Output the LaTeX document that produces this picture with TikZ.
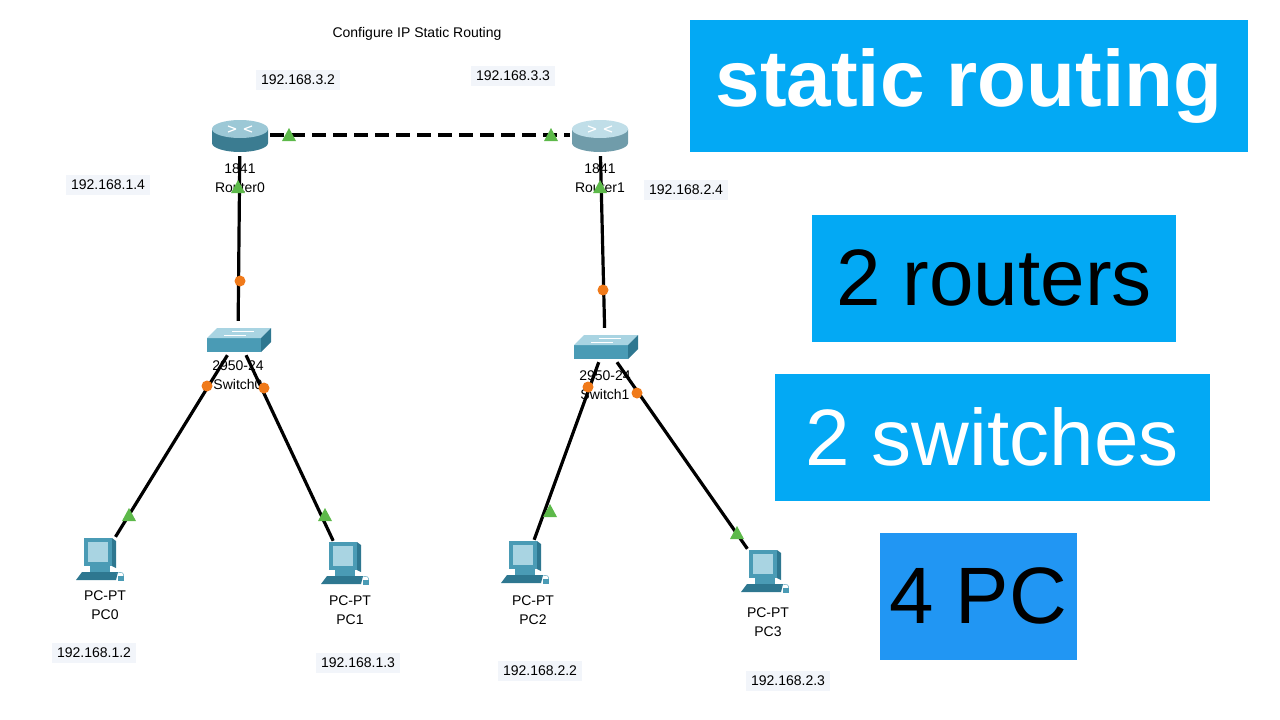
\documentclass[tikz,border=0pt]{standalone}
\usepackage{fontspec}
\setmainfont{Liberation Sans}
\usetikzlibrary{positioning,backgrounds}
\definecolor{devblue}{HTML}{4A9BB5}
\definecolor{devdark}{HTML}{2E7790}
\definecolor{devlight}{HTML}{A9D4E2}
\definecolor{tagfill}{HTML}{F2F5FA}
\definecolor{bannerblue}{HTML}{03A9F4}
\definecolor{bannerblue2}{HTML}{2196F3}
\definecolor{portgreen}{HTML}{5DB94A}
\definecolor{portorange}{HTML}{F07A1A}
\begin{document}
\begin{tikzpicture}[x=1pt,y=-1pt]
                \tikzset{router/.style = {minimum width=60pt,minimum height=42pt,inner sep=0pt,
                    path picture={\begin{scope}[shift={(path picture bounding box.center)}]
                      \fill[#1!80!black] (-28,-6) -- (-28,8) arc[start angle=180,end angle=0,x radius=28,y radius=9] -- (28,-6) -- cycle;
                      \fill[#1!55!white] (0,-6) ellipse[x radius=28,y radius=9];
                      \draw[white,line width=1.2pt] (-12,-9) -- (-4,-6) (12,-9) -- (4,-6) (-12,-3) -- (-4,-6) (12,-3) -- (4,-6);
                    \end{scope}}}}
                \tikzset{switch/.style = {minimum width=70pt,minimum height=34pt,inner sep=0pt,
                    path picture={\begin{scope}[shift={(path picture bounding box.center)}]
                      \fill[devblue] (-31,0) rectangle (23,14);
                      \fill[devlight] (-31,0) -- (-21,-10) -- (33,-10) -- (23,0) -- cycle;
                      \fill[devdark] (23,0) -- (33,-10) -- (33,4) -- (23,14) -- cycle;
                      \draw[white,line width=0.8pt] (-14,-3) -- (8,-3) (-6,-7) -- (16,-7);
                    \end{scope}}}}
                \tikzset{pc/.style = {minimum width=52pt,minimum height=50pt,inner sep=0pt,
                    path picture={\begin{scope}[shift={(path picture bounding box.center)}]
                      \fill[devblue] (-16,-24) rectangle (12,4);
                      \fill[devlight] (-12,-20) rectangle (8,0);
                      \fill[devdark] (12,-24) -- (16,-21) -- (16,6) -- (12,4) -- cycle;
                      \fill[devblue] (-10,4) rectangle (10,10);
                      \fill[devdark] (-24,18) -- (-18,10) -- (18,10) -- (16,18) -- cycle;
                      \draw[devblue] (16,12) .. controls (22,8) and (26,12) .. (22,16);
                      \fill[devblue] (18,14) rectangle (24,19);
                    \end{scope}}}}
                \tikzset{devlabel/.style = {font=\fontsize{14}{19}\selectfont,align=center,inner sep=0pt}}
                \tikzset{iptag/.style = {fill=tagfill,font=\fontsize{14}{16}\selectfont,inner sep=5pt}}
                \tikzset{link/.style = {line width=3.2pt}}
                \tikzset{banner/.style = {font=\fontsize{80}{80}\selectfont,inner sep=0pt,anchor=center}}
                \useasboundingbox (0,0) rectangle (1280,720);
                % devices
                \node[router=devblue] (r0) at (240,135) {};
                \node[router=devlight!70!devblue] (r1) at (600,135) {};
                \node[switch] (s0) at (238,338) {};
                \node[switch] (s1) at (605,345) {};
                \node[pc] (pc0) at (100,562) {};
                \node[pc] (pc1) at (345,566) {};
                \node[pc] (pc2) at (525,565) {};
                \node[pc] (pc3) at (765,574) {};
                % device labels
                \node[devlabel] (r0l) at (240,178) {1841\\Router0};
                \node[devlabel] (r1l) at (600,178) {1841\\Router1};
                \node[devlabel] (s0l) at (238,375) {2950-24\\Switch0};
                \node[devlabel] (s1l) at (605,385) {2950-24\\Switch1};
                \node[devlabel] (pc0l) at (105,605) {PC-PT\\PC0};
                \node[devlabel] (pc1l) at (350,610) {PC-PT\\PC1};
                \node[devlabel] (pc2l) at (533,610) {PC-PT\\PC2};
                \node[devlabel] (pc3l) at (768,622) {PC-PT\\PC3};
                % ip tags
                \node[devlabel] (title) at (417,34) {Configure IP Static Routing};
                \node[iptag] (ip32) at (298,80) {192.168.3.2};
                \node[iptag] (ip33) at (513,76) {192.168.3.3};
                \node[iptag] (ip14) at (108,185) {192.168.1.4};
                \node[iptag] (ip24) at (686,190) {192.168.2.4};
                \node[iptag] (ip12) at (94,653) {192.168.1.2};
                \node[iptag] (ip13) at (358,663) {192.168.1.3};
                \node[iptag] (ip22) at (540,671) {192.168.2.2};
                \node[iptag] (ip23) at (788,681) {192.168.2.3};
                % banners
                \node[banner,fill=bannerblue,text=white,font=\fontsize{80}{80}\bfseries,minimum width=558pt,minimum height=132pt] (b1) at (969,86) {static routing};
                \node[banner,fill=bannerblue,text=black,minimum width=364pt,minimum height=127pt] (b2) at (994,278) {2 routers};
                \node[banner,fill=bannerblue,text=white,minimum width=435pt,minimum height=127pt] (b3) at (992,437) {2 switches};
                \node[banner,fill=bannerblue2,text=black,minimum width=197pt,minimum height=127pt] (b4) at (978,596) {4 PC};
                % links
                \begin{scope}[on background layer]
                \draw[link,dash pattern=on 14pt off 7pt] (r0) -- (r1);
                \draw[link] (r0) -- (s0);
                \draw[link] (r1) -- (s1);
                \draw[link] (s0) -- (pc0);
                \draw[link] (s0) -- (pc1);
                \draw[link] (s1) -- (pc2);
                \draw[link] (s1) -- (pc3);
                \end{scope}
                % ports
                \foreach \p in {(289,136),(551,136),(238,188),(600,188),(129,516),(325,516),(550,512),(737,534)}
                    \fill[portgreen] \p ++(0,-8) -- ++(7,13) -- ++(-14,0) -- cycle;
                \foreach \p in {(240,281),(603,290),(207,386),(264,388),(588,387),(637,393)}
                    \fill[portorange] \p circle[radius=5.5];
\end{tikzpicture}
\end{document}
